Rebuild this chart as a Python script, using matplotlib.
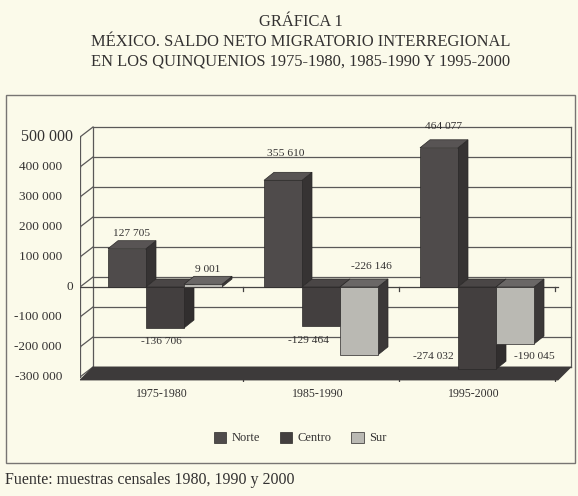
import matplotlib.pyplot as plt
from matplotlib.patches import Polygon, Rectangle, Patch

plt.rcParams['font.family'] = ['Liberation Serif', 'DejaVu Serif']

# datos
periodos = ['1975-1980', '1985-1990', '1995-2000']
regiones = ['Norte', 'Centro', 'Sur']
norte = [127705, 355610, 464077]
centro = [-136706, -129464, -274032]
sur = [9001, -226146, -190045]
y_ticks = [-300000, -200000, -100000, 0, 100000, 200000, 300000, 400000, 500000]
y_tick_labels = ['-300 000', '-200 000', '-100 000', '0', '100 000',
                 '200 000', '300 000', '400 000', '500 000']

titulo = ['GRÁFICA 1',
          'MÉXICO. SALDO NETO MIGRATORIO INTERREGIONAL',
          'EN LOS QUINQUENIOS 1975-1980, 1985-1990 Y 1995-2000']
fuente = 'Fuente: muestras censales 1980, 1990 y 2000'

W, H = 578, 496
bg = '#fbfaea'
txt = '#333131'
line_c = '#5a5858'

fig = plt.figure(figsize=(W / 100, H / 100), dpi=100)
fig.patch.set_facecolor(bg)

# escala: pixeles por categoria y por unidad
CPX = 1 / 156.0
VPX = 100000 / 30.0
c0 = 165
ax = fig.add_axes([80 / W, 1 - 382 / H, (575 - 80) / W, (382 - 126) / H])
ax.set_xlim((80 - c0) * CPX, (575 - c0) * CPX)
ax.set_ylim((287 - 382) * VPX, (287 - 126) * VPX)
ax.set_facecolor('none')
ax.axis('off')

wall_dx, wall_dy = 13 * CPX, 10 * VPX
bar_dx, bar_dy = 10 * CPX, 8 * VPX
bar_w = 38 * CPX
x_left = ax.get_xlim()[0]
x_right = (558 - c0) * CPX
y_min, y_max = y_ticks[0], y_ticks[-1]

# pared del fondo y lineas de division
for v in y_ticks:
    ax.plot([x_left + wall_dx, x_right + wall_dx], [v + wall_dy, v + wall_dy],
            color=line_c, lw=0.9, zorder=1)
    ax.plot([x_left, x_left + wall_dx], [v, v + wall_dy], color=line_c, lw=0.9, zorder=1)
    ax.plot([x_left - 3 * CPX, x_left], [v, v], color=line_c, lw=0.9, zorder=1)
for xx in [x_left + wall_dx, x_right + wall_dx]:
    ax.plot([xx, xx], [y_min + wall_dy, y_max + wall_dy], color=line_c, lw=0.9, zorder=1)
ax.plot([x_left, x_left], [y_min, y_max], color=line_c, lw=0.9, zorder=1)

# piso
floor_c = '#3d3a3a'
ax.add_patch(Polygon([(x_left, y_min - 3 * VPX), (x_right, y_min - 3 * VPX),
                      (x_right + wall_dx, y_min + wall_dy), (x_left + wall_dx, y_min + wall_dy)],
                     closed=True, facecolor=floor_c, edgecolor=floor_c, lw=0.6, zorder=1.5))

# linea del cero y marcas
ax.plot([x_left, x_right], [0, 0], color='#444242', lw=0.9, zorder=1.2)
for b in [0.5, 1.5, 2.5]:
    ax.plot([b, b], [0, -4 * VPX], color='#444242', lw=0.9, zorder=1.2)
    ax.plot([b, b], [y_min - 3 * VPX, y_min - 7 * VPX], color='#444242', lw=0.9, zorder=1.2)

# barras 3D
series = [norte, centro, sur]
front_c = ['#4f4b4b', '#433f3f', '#bab9b3']
side_c = ['#363333', '#312e2e', '#3b3838']
top_c = ['#585454', '#4a4646', '#6a6766']
label_off = [[(5, -15), (3, -27), (5, -21)],
             [(-4, 13), (-12, 15), (-44, -13)],
             [(5, -15), (12, -88), (19, 12)]]

xs = list(range(len(periodos)))
for j, vals in enumerate(series):
    xpos = [x + (j - 1) * bar_w for x in xs]
    bars = ax.bar(xpos, vals, width=bar_w, color=front_c[j], edgecolor='#2a2828',
                  lw=0.5, zorder=3 + j + 0.5)
    for rect, v in zip(bars, vals):
        x0 = rect.get_x()
        x1 = x0 + rect.get_width()
        top = max(v, 0)
        bot = min(v, 0)
        ax.add_patch(Polygon([(x1, bot), (x1 + bar_dx, bot + bar_dy),
                              (x1 + bar_dx, top + bar_dy), (x1, top)], closed=True,
                             facecolor=side_c[j], edgecolor='#2a2828', lw=0.5, zorder=3 + j))
        ax.add_patch(Polygon([(x0, top), (x1, top), (x1 + bar_dx, top + bar_dy),
                              (x0 + bar_dx, top + bar_dy)], closed=True,
                             facecolor=top_c[j], edgecolor='#2a2828', lw=0.5, zorder=3 + j))
    for i, (x, v) in enumerate(zip(xpos, vals)):
        dx, dy = label_off[j][i]
        ax.annotate(f'{v:,}'.replace(',', ' '), (x, v), xytext=(dx * 0.72, -dy * 0.72),
                    textcoords='offset points', ha='center', va='center',
                    fontsize=8.2, color=txt, zorder=10)

# etiquetas del eje y
for v, lab in zip(y_ticks, y_tick_labels):
    big = v == 500000
    off = -7 if v in (0, 500000) else -18
    ax.annotate(lab, (0, v), xycoords=('axes fraction', 'data'), xytext=(off * 0.72, 0),
                textcoords='offset points', ha='right', va='center',
                fontsize=11.5 if big else 9.5, color=txt)

# etiquetas de categorias
for x, p in zip(xs, periodos):
    ax.annotate(p, (x, 0), xycoords=('data', 'axes fraction'), xytext=(-3 * 0.72, -12 * 0.72),
                textcoords='offset points', ha='center', va='center', fontsize=8.6, color=txt)

# titulo y fuente
for k, (linea, yy) in enumerate(zip(titulo, [22.5, 42.5, 61.5])):
    fig.text(301 / W, 1 - yy / H, linea, ha='center', va='center', fontsize=11.9, color=txt)
fig.text(5 / W, 1 - 480 / H, fuente, ha='left', va='center', fontsize=11.5, color=txt)

# marco
fig.add_artist(Rectangle((6 / W, 1 - 463 / H), (575 - 6) / W, (463 - 95) / H,
                         transform=fig.transFigure, fill=False, edgecolor='#777573', lw=1.0))

# leyenda
handles = [Patch(facecolor=c, edgecolor='#2a2828', lw=0.5) for c in front_c]
fig.legend(handles, regiones, loc='center', bbox_to_anchor=(300 / W, 1 - 438 / H),
           ncol=3, frameon=False, fontsize=9, handlelength=1.0, handleheight=1.0,
           handletextpad=0.4, columnspacing=1.6, labelcolor=txt)

fig.savefig('out.png', dpi=100, facecolor=bg)
